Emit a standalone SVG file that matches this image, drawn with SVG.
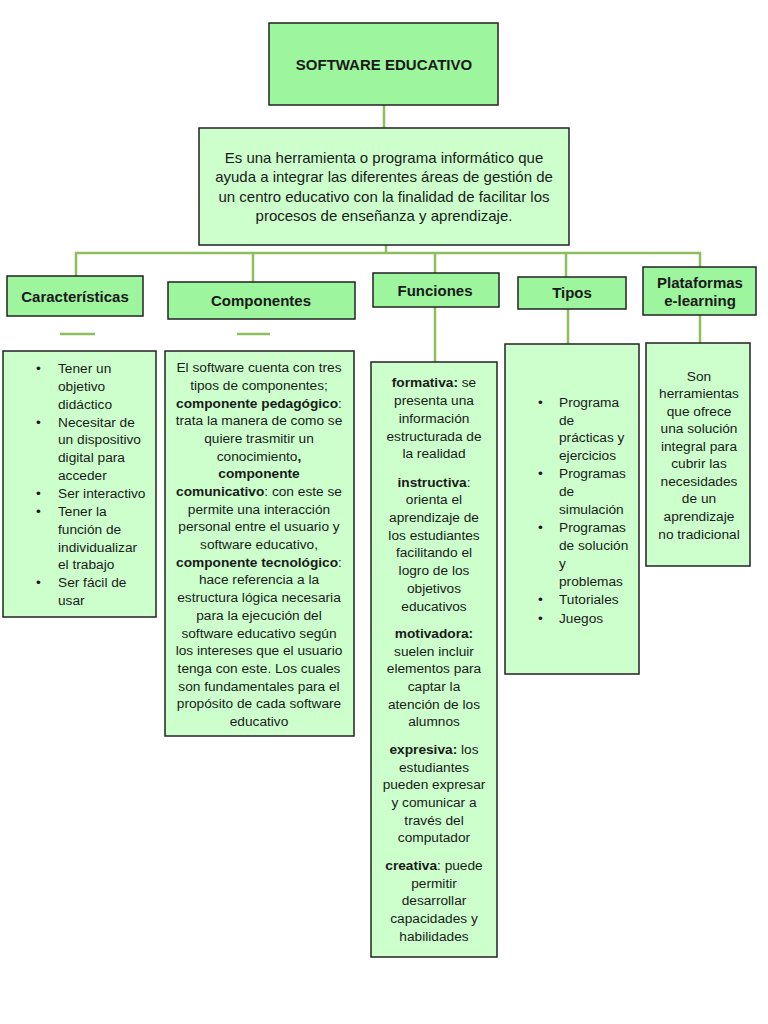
<svg xmlns="http://www.w3.org/2000/svg" width="768" height="1024" viewBox="0 0 768 1024">
<style>
.hd{fill:#9df59d;stroke:#222;stroke-width:1.5}
.bx{fill:#ccffcc;stroke:#222;stroke-width:1.5}
.cn{stroke:#8fbf5c;stroke-width:2.5;fill:none}
text{font-family:"Liberation Sans",Arial,sans-serif;fill:#1a1a1a}
.t{font-size:13.7px}
.c{text-anchor:middle}
.b{font-weight:bold}
.h{font-size:15px;font-weight:bold;text-anchor:middle}
</style>
<rect width="768" height="1024" fill="#fff"/>
<g id="connectors">
<line class="cn" x1="384" y1="105" x2="384" y2="128"/>
<line class="cn" x1="386" y1="245" x2="386" y2="253"/>
<line class="cn" x1="75" y1="253" x2="701" y2="253"/>
<line class="cn" x1="76" y1="252" x2="76" y2="276"/>
<line class="cn" x1="253" y1="252" x2="253" y2="282"/>
<line class="cn" x1="435" y1="252" x2="435" y2="273"/>
<line class="cn" x1="566" y1="252" x2="566" y2="277"/>
<line class="cn" x1="700" y1="252" x2="700" y2="267"/>
<line class="cn" x1="60" y1="334" x2="95" y2="334"/>
<line class="cn" x1="237" y1="334" x2="270" y2="334"/>
<line class="cn" x1="435" y1="307" x2="435" y2="362"/>
<line class="cn" x1="568" y1="309" x2="568" y2="345"/>
<line class="cn" x1="700" y1="315" x2="700" y2="343"/>
</g>
<g id="title">
<rect class="hd" x="269" y="23" width="229" height="82"/>
<text class="h" x="384" y="70" font-size="14">SOFTWARE EDUCATIVO</text>
</g>
<g id="description">
<rect class="bx" x="199" y="128" width="370" height="117"/>
<text class="c" font-size="15" x="384" y="163">Es una herramienta o programa informático que</text>
<text class="c" font-size="15" x="384" y="182">ayuda a integrar las diferentes áreas de gestión de</text>
<text class="c" font-size="15" x="384" y="202">un centro educativo con la finalidad de facilitar los</text>
<text class="c" font-size="15" x="384" y="221">procesos de enseñanza y aprendizaje.</text>
</g>
<g id="caracteristicas">
<rect class="hd" x="7" y="276" width="136" height="40"/>
<text class="h" x="75" y="302">Características</text>
</g>
<g id="componentes">
<rect class="hd" x="168" y="282" width="187" height="37"/>
<text class="h" x="261" y="306">Componentes</text>
</g>
<g id="funciones">
<rect class="hd" x="373" y="273" width="126" height="34"/>
<text class="h" x="435" y="296">Funciones</text>
</g>
<g id="tipos">
<rect class="hd" x="518" y="277" width="108" height="32"/>
<text class="h" x="572" y="298">Tipos</text>
</g>
<g id="plataformas">
<rect class="hd" x="643" y="267" width="113" height="48"/>
<text class="h" x="700" y="288">Plataformas</text>
<text class="h" x="700" y="306">e-learning</text>
</g>
<g id="caracteristicas-list" class="t">
<rect class="bx" x="3" y="351" width="153" height="266"/>
<text x="36" y="373">•</text><text x="58" y="373">Tener un</text>
<text x="58" y="391">objetivo</text>
<text x="58" y="409">didáctico</text>
<text x="36" y="427">•</text><text x="58" y="427">Necesitar de</text>
<text x="58" y="444">un dispositivo</text>
<text x="58" y="462">digital para</text>
<text x="58" y="480">acceder</text>
<text x="36" y="498">•</text><text x="58" y="498">Ser interactivo</text>
<text x="36" y="516">•</text><text x="58" y="516">Tener la</text>
<text x="58" y="534">función de</text>
<text x="58" y="552">individualizar</text>
<text x="58" y="569">el trabajo</text>
<text x="36" y="587">•</text><text x="58" y="587">Ser fácil de</text>
<text x="58" y="605">usar</text>
</g>
<g id="componentes-text" class="t c">
<rect class="bx" x="165" y="351" width="189" height="385"/>
<text x="259" y="372">El software cuenta con tres</text>
<text x="259" y="390">tipos de componentes;</text>
<text x="259" y="408"><tspan class="b">componente pedagógico</tspan>:</text>
<text x="259" y="425">trata la manera de como se</text>
<text x="259" y="443">quiere trasmitir un</text>
<text x="259" y="461">conocimiento<tspan class="b">,</tspan></text>
<text x="259" y="478" class="b">componente</text>
<text x="259" y="496"><tspan class="b">comunicativo</tspan>: con este se</text>
<text x="259" y="514">permite una interacción</text>
<text x="259" y="531">personal entre el usuario y</text>
<text x="259" y="549">software educativo,</text>
<text x="259" y="567"><tspan class="b">componente tecnológico</tspan>:</text>
<text x="259" y="584">hace referencia a la</text>
<text x="259" y="602">estructura lógica necesaria</text>
<text x="259" y="620">para la ejecución del</text>
<text x="259" y="638">software educativo según</text>
<text x="259" y="655">los intereses que el usuario</text>
<text x="259" y="673">tenga con este. Los cuales</text>
<text x="259" y="691">son fundamentales para el</text>
<text x="259" y="708">propósito de cada software</text>
<text x="259" y="726">educativo</text>
</g>
<g id="funciones-text" class="t c">
<rect class="bx" x="371" y="362" width="126" height="595"/>
<text x="434" y="387"><tspan class="b">formativa:</tspan> se</text>
<text x="434" y="405">presenta una</text>
<text x="434" y="423">información</text>
<text x="434" y="441">estructurada de</text>
<text x="434" y="458">la realidad</text>
<text x="434" y="487"><tspan class="b">instructiva</tspan>:</text>
<text x="434" y="504">orienta el</text>
<text x="434" y="522">aprendizaje de</text>
<text x="434" y="540">los estudiantes</text>
<text x="434" y="557">facilitando el</text>
<text x="434" y="575">logro de los</text>
<text x="434" y="593">objetivos</text>
<text x="434" y="611">educativos</text>
<text x="434" y="638" class="b">motivadora:</text>
<text x="434" y="656">suelen incluir</text>
<text x="434" y="673">elementos para</text>
<text x="434" y="691">captar la</text>
<text x="434" y="709">atención de los</text>
<text x="434" y="726">alumnos</text>
<text x="434" y="754"><tspan class="b">expresiva:</tspan> los</text>
<text x="434" y="772">estudiantes</text>
<text x="434" y="789">pueden expresar</text>
<text x="434" y="807">y comunicar a</text>
<text x="434" y="825">través del</text>
<text x="434" y="842">computador</text>
<text x="434" y="870"><tspan class="b">creativa</tspan>: puede</text>
<text x="434" y="888">permitir</text>
<text x="434" y="905">desarrollar</text>
<text x="434" y="923">capacidades y</text>
<text x="434" y="941">habilidades</text>
</g>
<g id="tipos-list" class="t">
<rect class="bx" x="505" y="344" width="134" height="330"/>
<text x="538" y="407">•</text><text x="559" y="407">Programa</text>
<text x="559" y="425">de</text>
<text x="559" y="442">prácticas y</text>
<text x="559" y="460">ejercicios</text>
<text x="538" y="478">•</text><text x="559" y="478">Programas</text>
<text x="559" y="496">de</text>
<text x="559" y="514">simulación</text>
<text x="538" y="532">•</text><text x="559" y="532">Programas</text>
<text x="559" y="550">de solución</text>
<text x="559" y="568">y</text>
<text x="559" y="586">problemas</text>
<text x="538" y="604">•</text><text x="559" y="604">Tutoriales</text>
<text x="538" y="623">•</text><text x="559" y="623">Juegos</text>
</g>
<g id="plataformas-text" class="t c">
<rect class="bx" x="646" y="343" width="104" height="223"/>
<text x="699" y="381">Son</text>
<text x="699" y="398">herramientas</text>
<text x="699" y="416">que ofrece</text>
<text x="699" y="433">una solución</text>
<text x="699" y="451">integral para</text>
<text x="699" y="468">cubrir las</text>
<text x="699" y="486">necesidades</text>
<text x="699" y="503">de un</text>
<text x="699" y="521">aprendizaje</text>
<text x="699" y="539">no tradicional</text>
</g>
</svg>
